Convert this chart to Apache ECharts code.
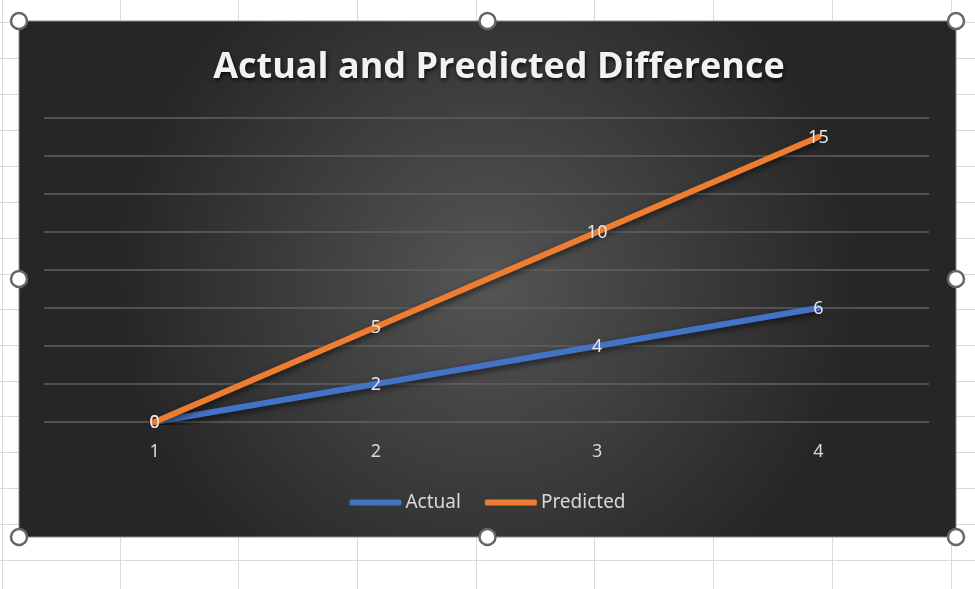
<!DOCTYPE html>
<html>
<head>
<meta charset="utf-8">
<script src="https://cdn.jsdelivr.net/npm/echarts@6/dist/echarts.min.js"></script>
<style>
html,body{margin:0;padding:0;background:#ffffff;}
#chart{width:975px;height:589px;}
</style>
</head>
<body>
<div id="chart"></div>
<script>
// ---- data ----
var categories = ['1', '2', '3', '4'];
var actualValues = [0, 2, 4, 6];
var predictedValues = [0, 5, 10, 15];
var seriesNames = ['Actual', 'Predicted'];
var chartTitle = 'Actual and Predicted Difference';

// ---- decoration (spreadsheet backdrop) ----
var sheetCols = [2, 120, 238, 357, 476, 594, 713, 832, 951];
var sheetRows = [22, 58, 94, 130, 166, 202, 238, 274, 309, 345, 381, 416, 452, 488, 524, 560];
var box = {x: 19, y: 21, w: 937, h: 516};

var graphics = [];
sheetCols.forEach(function (x) {
  graphics.push({type: 'line', z: -30, silent: true,
    shape: {x1: x + 0.5, y1: 0, x2: x + 0.5, y2: 589},
    style: {stroke: '#dadada', lineWidth: 1}});
});
sheetRows.forEach(function (y) {
  graphics.push({type: 'line', z: -30, silent: true,
    shape: {x1: 0, y1: y + 0.5, x2: 975, y2: y + 0.5},
    style: {stroke: '#dadada', lineWidth: 1}});
});
graphics.push({type: 'rect', z: -10, silent: true,
  shape: {x: box.x, y: box.y, width: box.w, height: box.h},
  style: {
    fill: {type: 'radial', x: 0.5, y: 0.5, r: 0.72,
      colorStops: [{offset: 0, color: '#555555'}, {offset: 1, color: '#262626'}]},
    stroke: '#8c8c8c', lineWidth: 1
  }});
var handles = [
  [box.x, box.y], [box.x + box.w / 2, box.y], [box.x + box.w, box.y],
  [box.x, box.y + box.h / 2], [box.x + box.w, box.y + box.h / 2],
  [box.x, box.y + box.h], [box.x + box.w / 2, box.y + box.h], [box.x + box.w, box.y + box.h]
];
handles.forEach(function (p) {
  graphics.push({type: 'circle', z: 100, silent: true,
    shape: {cx: p[0], cy: p[1], r: 8},
    style: {fill: '#ffffff', stroke: '#666666', lineWidth: 2.5}});
});

var labelStyle = {show: true, position: 'inside', color: '#e6e6e6', fontSize: 18,
  fontFamily: 'Noto Sans', offset: [0, 1]};

var chart = echarts.init(document.getElementById('chart'));
chart.setOption({
  animation: false,
  backgroundColor: 'transparent',
  graphic: graphics,
  title: {
    text: chartTitle,
    left: 494,
    textAlign: 'center',
    top: 45,
    textStyle: {
      color: '#f2f2f2', fontSize: 36, fontWeight: 'bold', fontFamily: 'Open Sans',
      textShadowColor: 'rgba(0,0,0,0.8)', textShadowBlur: 4, textShadowOffsetX: 1, textShadowOffsetY: 2
    }
  },
  legend: {
    data: seriesNames,
    left: 'center',
    top: 488,
    itemWidth: 52,
    itemHeight: 6,
    itemGap: 24,
    icon: 'roundRect',
    textStyle: {color: '#d9d9d9', fontSize: 19, fontFamily: 'Noto Sans', padding: [0, 0, 0, -1]}
  },
  grid: {left: 44, right: 46, top: 118, bottom: 167, containLabel: false},
  xAxis: {
    type: 'category',
    data: categories,
    boundaryGap: true,
    axisLine: {show: false},
    axisTick: {show: false},
    axisLabel: {color: '#d9d9d9', fontSize: 18, fontFamily: 'Noto Sans', margin: 21}
  },
  yAxis: {
    type: 'value',
    min: 0, max: 16, interval: 2,
    axisLabel: {show: false},
    axisLine: {show: false},
    axisTick: {show: false},
    splitLine: {lineStyle: {color: '#616161', width: 1.5}}
  },
  series: [
    {name: seriesNames[0], type: 'line', data: actualValues,
      symbol: 'circle', symbolSize: 0.01, showSymbol: true,
      lineStyle: {color: '#4472C4', width: 6, cap: 'round',
        shadowColor: 'rgba(0,0,0,0.6)', shadowBlur: 6, shadowOffsetY: 3},
      itemStyle: {color: '#4472C4'},
      label: labelStyle, z: 3},
    {name: seriesNames[1], type: 'line', data: predictedValues,
      symbol: 'circle', symbolSize: 0.01, showSymbol: true,
      lineStyle: {color: '#ED7D31', width: 6, cap: 'round',
        shadowColor: 'rgba(0,0,0,0.6)', shadowBlur: 6, shadowOffsetY: 3},
      itemStyle: {color: '#ED7D31'},
      label: labelStyle, z: 4}
  ]
});
</script>
</body>
</html>
